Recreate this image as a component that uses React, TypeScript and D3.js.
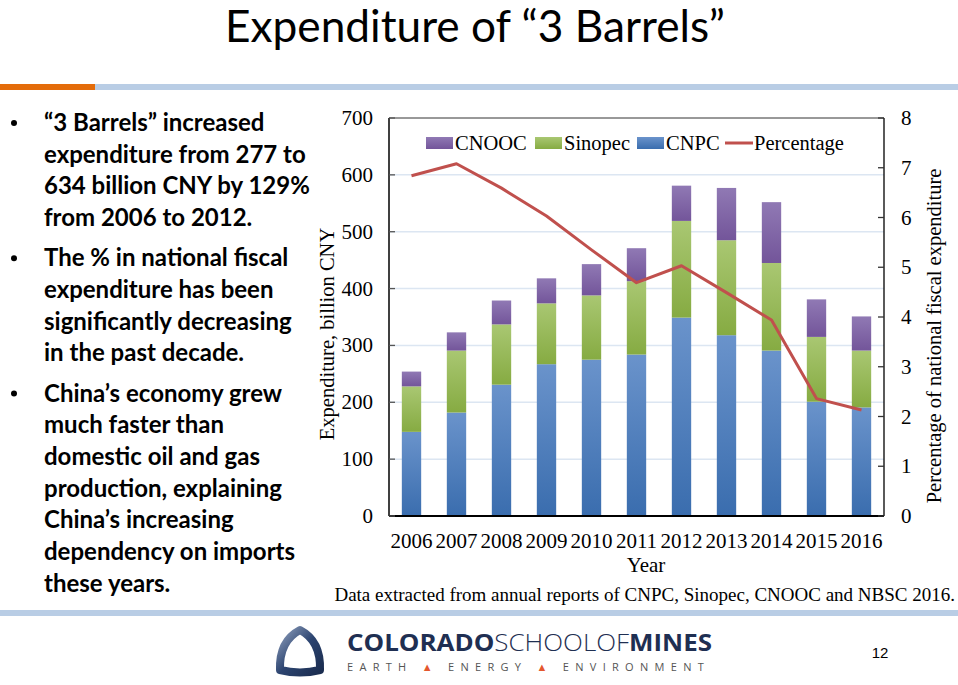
import React from 'react';
import * as d3 from 'd3';

const years = ['2006', '2007', '2008', '2009', '2010', '2011', '2012', '2013', '2014', '2015', '2016'];
const cnpc = [148, 182, 231, 267, 275, 284, 349, 318, 291, 201, 191];
const sinopec = [80, 109, 106, 107, 113, 129, 170, 167, 154, 114, 100];
const cnooc = [26, 32, 42, 44, 55, 58, 62, 92, 107, 66, 60];
const percentage = [6.84, 7.08, 6.59, 6.03, 5.35, 4.69, 5.03, 4.49, 3.94, 2.36, 2.13];
const leftTicks = [0, 100, 200, 300, 400, 500, 600, 700];
const rightTicks = [0, 1, 2, 3, 4, 5, 6, 7, 8];
const seriesKeys = ['CNPC', 'Sinopec', 'CNOOC'];

const bullets = [
  ['\u201C3 Barrels\u201D increased', 'expenditure from 277 to', '634 billion CNY by 129%', 'from 2006 to 2012.'],
  ['The % in national fiscal', 'expenditure has been', 'significantly decreasing', 'in the past decade.'],
  ['China\u2019s economy grew', 'much faster than', 'domestic oil and gas', 'production, explaining', 'China\u2019s increasing', 'dependency on imports', 'these years.'],
];

const W = 958;
const H = 685;
const M = { left: 389, right: 884, top: 118, bottom: 516 };

const serif = '"Liberation Serif", "Times New Roman", serif';
const sans = 'Lato, "Open Sans", sans-serif';

const colors: Record<string, [string, string]> = {
  CNPC: ['#6a93cb', '#3a6dae'],
  Sinopec: ['#a9c772', '#86ab42'],
  CNOOC: ['#9079b4', '#73559a'],
};

export default function App() {
  const rows = years.map((y, i) => ({ year: y, CNPC: cnpc[i], Sinopec: sinopec[i], CNOOC: cnooc[i] }));
  const stacked = d3.stack<any>().keys(seriesKeys)(rows);

  const x = d3.scaleBand<string>().domain(years).range([M.left, M.right]).paddingInner(0.57).paddingOuter(0.285);
  const yL = d3.scaleLinear().domain([0, 700]).range([M.bottom, M.top]);
  const yR = d3.scaleLinear().domain([0, 8]).range([M.bottom, M.top]);

  const line = d3
    .line<number>()
    .x((_, i) => (x(years[i]) as number) + x.bandwidth() / 2)
    .y((d) => yR(d));

  let lineY = 131;
  const bulletEls: React.ReactNode[] = [];
  bullets.forEach((b, bi) => {
    b.forEach((t, li) => {
      if (li === 0) {
        bulletEls.push(
          <circle key={`d${bi}`} cx={14} cy={lineY - 8} r={3} fill="#000" />
        );
      }
      bulletEls.push(
        <text key={`t${bi}-${li}`} x={44} y={lineY} fontFamily={sans} fontWeight={700} fontSize={24} fill="#000">
          {t}
        </text>
      );
      lineY += 31.7;
    });
    lineY += 8.5;
  });

  const legendItems = [
    { key: 'CNOOC', x: 426, type: 'rect' },
    { key: 'Sinopec', x: 535, type: 'rect' },
    { key: 'CNPC', x: 637, type: 'rect' },
    { key: 'Percentage', x: 725, type: 'line' },
  ];

  return (
    <svg width={W} height={H} style={{ position: 'absolute', left: 0, top: 0, background: '#fff' }}>
      <defs>
        {seriesKeys.map((k) => (
          <linearGradient key={k} id={`g-${k}`} x1="0" y1="0" x2="0" y2="1">
            <stop offset="0" stopColor={colors[k][0]} />
            <stop offset="1" stopColor={colors[k][1]} />
          </linearGradient>
        ))}
        <linearGradient id="logo-g" x1="0" y1="0" x2="1" y2="1">
          <stop offset="0" stopColor="#8c9dbb" />
          <stop offset="0.5" stopColor="#2c4470" />
          <stop offset="1" stopColor="#1b2d50" />
        </linearGradient>
      </defs>
      <rect width={W} height={H} fill="#fff" />

      {/* Title */}
      <text x={475} y={42} textAnchor="middle" fontFamily={sans} fontSize={44} textLength={500} lengthAdjust="spacingAndGlyphs" fill="#000">
        Expenditure of {'\u201C'}3 Barrels{'\u201D'}
      </text>
      <rect x={0} y={84} width={W} height={6} fill="#b9cde5" />
      <rect x={0} y={84} width={95} height={6} fill="#e46c0a" />

      {/* Bullets */}
      {bulletEls}

      {/* Gridlines */}
      {leftTicks.filter((t) => t > 0 && t < 700).map((t) => (
        <line key={`gl${t}`} x1={M.left} x2={M.right} y1={yL(t)} y2={yL(t)} stroke="#dce6f2" strokeWidth={1.5} />
      ))}

      {/* Bars */}
      {stacked.map((s) => (
        <g key={s.key} fill={`url(#g-${s.key})`}>
          {s.map((d, i) => (
            <rect
              key={i}
              x={x(years[i])}
              width={x.bandwidth()}
              y={yL(d[1])}
              height={yL(d[0]) - yL(d[1])}
            />
          ))}
        </g>
      ))}

      {/* Percentage line */}
      <path d={line(percentage) || ''} fill="none" stroke="#c0504d" strokeWidth={3} strokeLinejoin="round" />

      {/* Frame & axes */}
      <line x1={M.left} x2={M.right} y1={M.top} y2={M.top} stroke="#333" strokeWidth={1} />
      <line x1={M.right} x2={M.right} y1={M.top} y2={M.bottom} stroke="#000" strokeWidth={1.3} />
      <line x1={M.left} x2={M.left} y1={M.top} y2={M.bottom} stroke="#000" strokeWidth={1.5} />
      <line x1={M.left} x2={M.right} y1={M.bottom} y2={M.bottom} stroke="#000" strokeWidth={1.8} />

      {/* Left ticks */}
      {leftTicks.map((t) => (
        <g key={`lt${t}`}>
          <line x1={M.left} x2={M.left + 6} y1={yL(t)} y2={yL(t)} stroke="#555" strokeWidth={1.3} />
          <text x={373} y={yL(t) + 7} textAnchor="end" fontFamily={serif} fontSize={21} fill="#000">
            {t}
          </text>
        </g>
      ))}

      {/* Right ticks */}
      {rightTicks.map((t) => (
        <g key={`rt${t}`}>
          <line x1={M.right - 6} x2={M.right} y1={yR(t)} y2={yR(t)} stroke="#333" strokeWidth={1.3} />
          <text x={901} y={yR(t) + 7} textAnchor="start" fontFamily={serif} fontSize={21} fill="#000">
            {t}
          </text>
        </g>
      ))}

      {/* X labels */}
      {years.map((yv) => (
        <text key={yv} x={(x(yv) as number) + x.bandwidth() / 2} y={548} textAnchor="middle" fontFamily={serif} fontSize={21} fill="#000">
          {yv}
        </text>
      ))}
      <text x={646} y={572} textAnchor="middle" fontFamily={serif} fontSize={21} fill="#000">Year</text>

      {/* Axis titles */}
      <text transform={`translate(334,334) rotate(-90)`} textAnchor="middle" fontFamily={serif} fontSize={20.5} fill="#000">
        Expenditure, billion CNY
      </text>
      <text transform={`translate(941,336) rotate(-90)`} textAnchor="middle" fontFamily={serif} fontSize={20.5} fill="#000">
        Percentage of national fiscal expenditure
      </text>

      {/* Legend */}
      {legendItems.map((l) => (
        <g key={l.key}>
          {l.type === 'rect' ? (
            <rect x={l.x} y={137} width={27} height={12} fill={`url(#g-${l.key})`} />
          ) : (
            <line x1={l.x} x2={l.x + 28} y1={143} y2={143} stroke="#c0504d" strokeWidth={3} />
          )}
          <text x={l.x + 29} y={150} fontFamily={serif} fontSize={20.5} fill="#000">
            {l.key}
          </text>
        </g>
      ))}

      {/* Source note */}
      <text x={955} y={601} textAnchor="end" fontFamily={serif} fontSize={19} fill="#000">
        Data extracted from annual reports of CNPC, Sinopec, CNOOC and NBSC 2016.
      </text>
      <rect x={0} y={610} width={W} height={6} fill="#b9cde5" />

      {/* Logo */}
      <path
        d="M300,630 Q321,641 320,670 Q300,675 280,670 Q279,641 300,630 Z"
        fill="none"
        stroke="url(#logo-g)"
        strokeWidth={8}
        strokeLinejoin="round"
      />
      <text x={347} y={651} fontFamily={'"Open Sans", Lato, sans-serif'} fontSize={23} fill="#1f2f52" textLength={365} lengthAdjust="spacingAndGlyphs">
        <tspan fontWeight={700}>COLORADO</tspan>
        <tspan fontWeight={300}>SCHOOLOF</tspan>
        <tspan fontWeight={700}>MINES</tspan>
      </text>
      <text x={347} y={671} fontFamily={'"Open Sans", Lato, sans-serif'} fontSize={11} fill="#555" letterSpacing={6.3}>
        EARTH <tspan fill="#e4572e">{'\u25B2'}</tspan> ENERGY <tspan fill="#e4572e">{'\u25B2'}</tspan> ENVIRONMENT
      </text>
      <text x={880} y={658} textAnchor="middle" fontFamily={'"Liberation Sans", Arial, sans-serif'} fontSize={15} fill="#000">
        12
      </text>
    </svg>
  );
}
